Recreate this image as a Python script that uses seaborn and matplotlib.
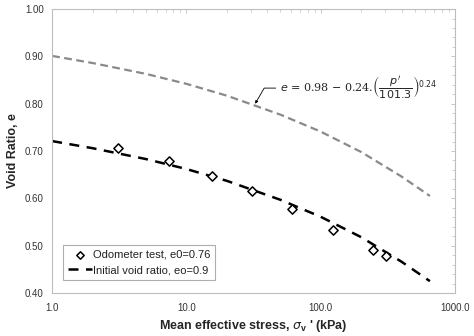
import matplotlib
matplotlib.use("Agg")
import matplotlib.pyplot as plt
import seaborn as sns
import pandas as pd
from matplotlib.ticker import FixedLocator, MultipleLocator, LogLocator, NullFormatter, FuncFormatter

# Odometer test data
test_stress = [3.1, 7.4, 15.5, 30.7, 61.5, 123, 247, 307]
test_e = [0.706, 0.679, 0.647, 0.615, 0.578, 0.534, 0.491, 0.478]

# Curves
curve_stress = [1, 2, 5, 10, 20, 50, 100, 200, 400, 650]
fit_e = [0.721, 0.706, 0.683, 0.662, 0.637, 0.597, 0.561, 0.518, 0.466, 0.425]
init_e = [0.901, 0.886, 0.863, 0.842, 0.817, 0.777, 0.741, 0.698, 0.646, 0.605]

x_ticks = [1, 10, 100, 1000]
x_ticklabels = ["1.0", "10.0", "100.0", "1000.0"]
y_ticks = [0.4, 0.5, 0.6, 0.7, 0.8, 0.9, 1.0]

sns.set_theme(style="white")
plt.rcParams['font.family'] = ['Liberation Sans', 'DejaVu Sans']

fig = plt.figure(figsize=(4.74, 3.36), dpi=100)
ax = fig.add_axes([0.110, 0.128, 0.850, 0.845])

df_test = pd.DataFrame({"p": test_stress, "e": test_e})
df_curve = pd.DataFrame({"p": curve_stress, "fit": fit_e, "init": init_e})

sns.lineplot(data=df_curve, x="p", y="init", ax=ax, color="#8a8a8a", lw=1.6,
             linestyle=(0, (3.5, 2)), label="_nolegend_")
sns.lineplot(data=df_curve, x="p", y="fit", ax=ax, color="black", lw=1.8,
             linestyle=(0, (4, 3)), label="Initial void ratio, eo=0.9")
sns.scatterplot(data=df_test, x="p", y="e", ax=ax, marker="D", s=22,
                facecolor="white", edgecolor="black", linewidth=1.1,
                label="Odometer test, e0=0.76", zorder=5)

ax.set_xscale("log")
ax.set_xlim(1, 1000)
ax.set_ylim(0.4, 1.0)
ax.xaxis.set_major_locator(FixedLocator(x_ticks))
ax.xaxis.set_major_formatter(FuncFormatter(lambda v, p: x_ticklabels[x_ticks.index(round(v))] if round(v) in x_ticks else ""))
ax.xaxis.set_minor_locator(LogLocator(base=10, subs=range(2, 10)))
ax.xaxis.set_minor_formatter(NullFormatter())
ax.yaxis.set_major_locator(FixedLocator(y_ticks))
ax.yaxis.set_major_formatter(FuncFormatter(lambda v, p: f"{v:.2f}"))
ax.yaxis.set_minor_locator(MultipleLocator(0.02))

ax.tick_params(which="both", direction="in", top=True, right=True, colors="#bdbdbd",
               labelcolor="#333333", labelsize=7)
ax.tick_params(which="major", length=3, width=0.6)
ax.tick_params(which="minor", length=2, width=0.5)
ax.tick_params(axis="x", which="major", pad=7)
ax.tick_params(axis="y", which="major", pad=6)
for s in ax.spines.values():
    s.set_color("#bdbdbd")
    s.set_linewidth(0.8)

ax.set_ylabel("Void Ratio, e", fontsize=9, fontweight="bold", labelpad=4)
ax.set_xlabel(r"Mean effective stress, $\sigma_\mathregular{v}$ ' (kPa)", fontsize=9,
              fontweight="bold", labelpad=4)

ax.annotate(r"$e$ = 0.98 $-$ 0.24.$\left(\dfrac{p'}{101.3}\right)^{0.24}$",
            xy=(32.5, 0.800), xytext=(50, 0.833), fontsize=8, family="DejaVu Serif",
            va="center", ha="left",
            arrowprops=dict(arrowstyle="-|>", color="black", lw=0.6, mutation_scale=4,
                            connectionstyle="angle,angleA=0,angleB=60,rad=0", shrinkA=1, shrinkB=0))

handles, labels = ax.get_legend_handles_labels()
order = [labels.index("Odometer test, e0=0.76"), labels.index("Initial void ratio, eo=0.9")]
leg = ax.legend([handles[i] for i in order], [labels[i] for i in order],
                loc="lower left", bbox_to_anchor=(0.012, 0.025), fontsize=8,
                frameon=True, fancybox=False, handlelength=2.2, handletextpad=0.1,
                borderpad=0.45, labelspacing=0.5, markerscale=0.8)
leg.get_frame().set_edgecolor("#9a9a9a")
leg.get_frame().set_linewidth(0.8)
for t in leg.get_texts():
    t.set_color("#222222")

fig.savefig("out.png", dpi=100)
